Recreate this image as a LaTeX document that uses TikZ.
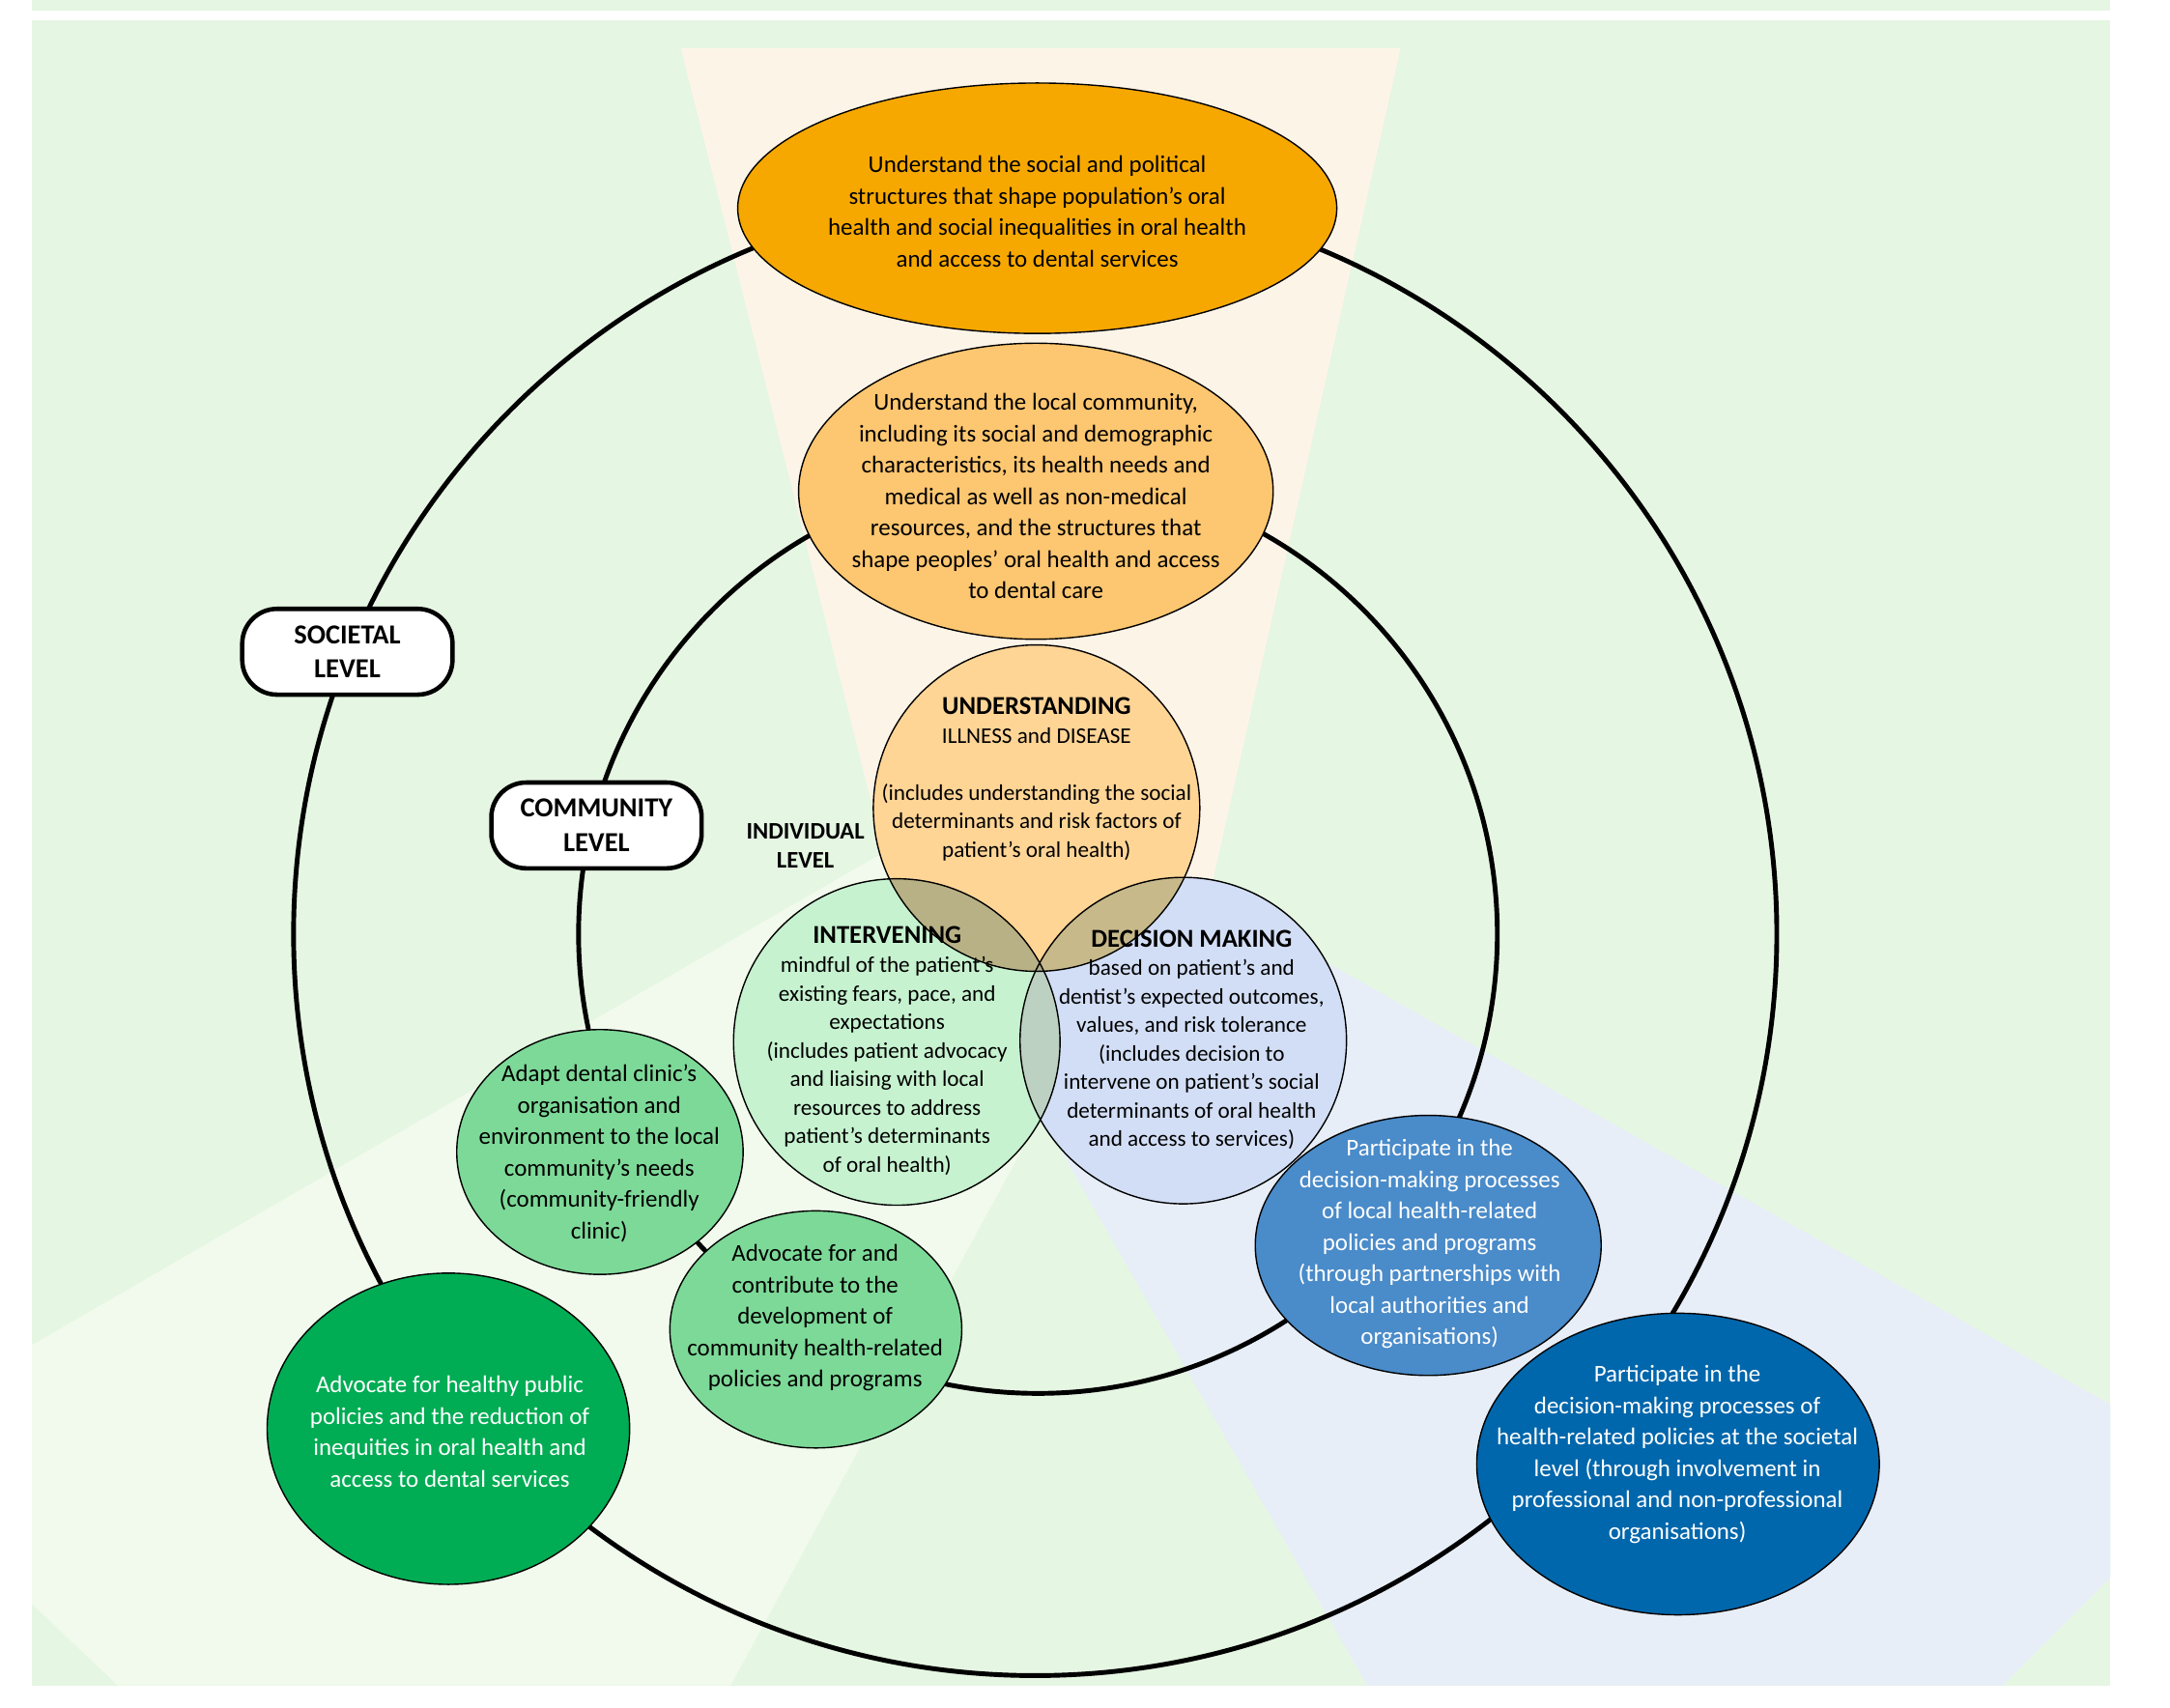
\documentclass[tikz,border=0pt]{standalone}
\usepackage{fontspec}
\setmainfont{Carlito}
\usetikzlibrary{shapes.geometric}
\definecolor{bgbase}{HTML}{E5F6E2}
\definecolor{bglight}{HTML}{F1FAEC}
\definecolor{bgcream}{HTML}{FDF4E8}
\definecolor{bgblue}{HTML}{E8EEF8}
\definecolor{cTop}{HTML}{F6A800}
\definecolor{cMid}{HTML}{FDC670}
\definecolor{cU}{HTML}{FFD596}
\definecolor{cI}{HTML}{C6F2CF}
\definecolor{cD}{HTML}{D2DEF5}
\definecolor{cUI}{HTML}{B8B186}
\definecolor{cUD}{HTML}{C8B98A}
\definecolor{cID}{HTML}{BCD1C1}
\definecolor{cUID}{HTML}{AFAC8A}
\definecolor{cMedG}{HTML}{7DD998}
\definecolor{cDarkG}{HTML}{00AD54}
\definecolor{cMedB}{HTML}{4A8BC9}
\definecolor{cDarkB}{HTML}{0067AC}
\newcommand{\vhead}[1]{{\fontsize{7.6}{8.6}\selectfont\bfseries #1}}
\begin{document}
\begin{tikzpicture}[x=0.014324cm,y=-0.014324cm,
  shp/.style={ellipse, inner sep=0pt, outer sep=0pt, draw=black, line width=0.4pt},
  vshp/.style={circle, inner sep=0pt, outer sep=0pt, minimum size=3.38cm},
  txt/.style={align=center, inner sep=0pt, font=\fontsize{7.1}{9.25}\selectfont},
  vtxt/.style={align=center, inner sep=0pt, font=\fontsize{6.6}{8.4}\selectfont},
  pill/.style={draw=black, line width=1.3pt, fill=white, rounded corners=0.36cm,
    minimum width=2.177cm, minimum height=0.888cm, inner sep=0pt, align=center,
    font=\fontsize{8.1}{10.2}\selectfont\bfseries},
  ring/.style={draw=black, line width=1.4pt},
  vline/.style={draw=black, line width=0.4pt}]
\useasboundingbox (0,0) rectangle (1568,1234);
% background
\fill[white] (0,0) rectangle (1568,1234);
\fill[bgbase] (23,0) rectangle (1525,8);
\fill[bgbase] (23,15) rectangle (1525,1218);
\fill[bglight] (640,615) -- (752,806) -- (528,1218) -- (85,1218) -- (23,1159) -- (23,972) -- cycle;
\fill[bgcream] (492,35) -- (1012,35) -- (862,700) -- (660,700) -- cycle;
\fill[bgblue] (752,806) -- (880,651) -- (1525,1015) -- (1525,1140) -- (1447,1218) -- (988,1218) -- cycle;
% level circles
\coordinate (ctrO) at (748,675);
\coordinate (ctrC) at (750,675);
\draw[ring] (ctrO) circle[radius=7.678cm];
\draw[ring] (ctrC) circle[radius=4.756cm];
% level labels
\node[pill] (soc) at (251,471) {SOCIETAL\\LEVEL};
\node[pill] (com) at (431,596.5) {COMMUNITY\\LEVEL};
\node[align=center, inner sep=0pt, font=\fontsize{7}{8.6}\selectfont\bfseries] (ind) at (582,611) {INDIVIDUAL\\LEVEL};
% top ellipses
\node[shp, fill=cTop, minimum width=6.202cm, minimum height=2.593cm] (top) at (749.5,150.5) {};
\node[txt] (topT) at (749.5,153) {Understand the social and political\\structures that shape population’s oral\\health and social inequalities in oral health\\and access to dental services};
\node[shp, fill=cMid, minimum width=4.913cm, minimum height=3.065cm] (mid) at (748.5,355) {};
\node[txt] (midT) at (748.5,358.5) {Understand the local community,\\including its social and demographic\\characteristics, its health needs and\\medical as well as non-medical\\resources, and the structures that\\shape peoples’ oral health and access\\to dental care};
% community / societal actions
\node[shp, fill=cMedG, minimum width=2.965cm, minimum height=2.535cm] (adapt) at (433.5,832.5) {};
\node[txt] (adaptT) at (433,833.5) {Adapt dental clinic’s\\organisation and\\environment to the local\\community’s needs\\(community-friendly\\clinic)};
\node[shp, fill=cMedG, minimum width=3.022cm, minimum height=2.455cm] (contr) at (589.5,960.7) {};
\node[txt] (contrT) at (589,952.5) {Advocate for and\\contribute to the\\development of\\community health-related\\policies and programs};
\node[shp, fill=cDarkG, minimum width=3.753cm, minimum height=3.223cm] (adv) at (324,1032.5) {};
\node[txt, text=white] (advT) at (325,1034.5) {Advocate for healthy public\\policies and the reduction of\\inequities in oral health and\\access to dental services};
\node[shp, fill=cMedB, minimum width=3.581cm, minimum height=2.693cm] (plocal) at (1032,900) {};
\node[txt, text=white] (plocalT) at (1033,899) {Participate in the\\decision-making processes\\of local health-related\\policies and programs\\(through partnerships with\\local authorities and\\organisations)};
\node[shp, fill=cDarkB, minimum width=4.168cm, minimum height=3.123cm] (psoc) at (1212.5,1058) {};
\node[txt, text=white] (psocT) at (1212,1051) {Participate in the\\decision-making processes of\\health-related policies at the societal\\level (through involvement in\\professional and non-professional\\organisations)};
% Venn
\node[vshp, fill=cU] (U) at (749,584) {};
\node[vshp, fill=cI] (I) at (648,753) {};
\node[vshp, fill=cD] (D) at (855,752) {};
\begin{scope}\clip (U.center) circle[radius=1.69cm]; \fill[cUI] (I.center) circle[radius=1.69cm];\end{scope}
\begin{scope}\clip (U.center) circle[radius=1.69cm]; \fill[cUD] (D.center) circle[radius=1.69cm];\end{scope}
\begin{scope}\clip (I.center) circle[radius=1.69cm]; \fill[cID] (D.center) circle[radius=1.69cm];\end{scope}
\begin{scope}\clip (U.center) circle[radius=1.69cm]; \clip (I.center) circle[radius=1.69cm]; \fill[cUID] (D.center) circle[radius=1.69cm];\end{scope}
\draw[vline] (U.center) circle[radius=1.69cm];
\draw[vline] (I.center) circle[radius=1.69cm];
\draw[vline] (D.center) circle[radius=1.69cm];
\node[vtxt] (UT) at (749,563) {\vhead{UNDERSTANDING}\\ILLNESS and DISEASE\\[8.4pt](includes understanding the social\\determinants and risk factors of\\patient’s oral health)};
\node[vtxt] (IT) at (641,759.5) {\vhead{INTERVENING}\\mindful of the patient’s\\existing fears, pace, and\\expectations\\(includes patient advocacy\\and liaising with local\\resources to address\\patient’s determinants\\of oral health)};
\node[vtxt] (DT) at (861,751.5) {\vhead{DECISION MAKING}\\based on patient’s and\\dentist’s expected outcomes,\\values, and risk tolerance\\(includes decision to\\intervene on patient’s social\\determinants of oral health\\and access to services)};
\end{tikzpicture}
\end{document}
